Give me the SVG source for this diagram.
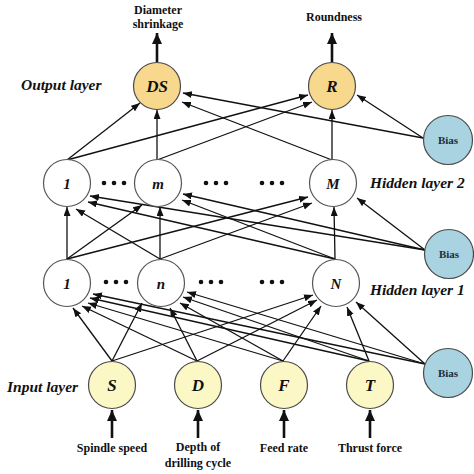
<svg xmlns="http://www.w3.org/2000/svg" width="474" height="474" viewBox="0 0 474 474">
<style>
.c{stroke:#111;stroke-width:1.3;fill:none;marker-end:url(#a)}
.io{stroke:#111;stroke-width:2.6;fill:none;marker-end:url(#b)}
.out{fill:#f7d88c;stroke:#4a4a4a;stroke-width:1.2}
.in{fill:#fcf8c6;stroke:#4a4a4a;stroke-width:1.2}
.hid{fill:#fff;stroke:#555;stroke-width:1.2}
.bias{fill:#a9d3e0;stroke:#4a4a4a;stroke-width:1.2}
.nl{font-family:"Liberation Serif",serif;font-weight:bold;font-style:italic;font-size:17px;text-anchor:middle;fill:#111}
.hl{font-family:"Liberation Serif",serif;font-weight:bold;font-style:italic;font-size:15px;text-anchor:middle;fill:#111}
.ll{font-family:"Liberation Serif",serif;font-weight:bold;font-style:italic;font-size:15.5px;fill:#111}
.lb{font-family:"Liberation Serif",serif;font-weight:bold;font-size:12px;text-anchor:middle;fill:#111}
.bt{font-family:"Liberation Serif",serif;font-weight:bold;font-size:11px;text-anchor:middle;fill:#1c2a3a}
.dot{fill:#111}
</style>
<defs>
<marker id="a" markerUnits="userSpaceOnUse" markerWidth="10" markerHeight="8" refX="9" refY="3.5" orient="auto"><path d="M0,0 L9,3.5 L0,7 z" fill="#111"/></marker>
<marker id="b" markerUnits="userSpaceOnUse" markerWidth="12" markerHeight="12" refX="11" refY="5" orient="auto"><path d="M0,0 L11,5 L0,10 z" fill="#111"/></marker>
</defs>
<g id="connectors">
<!-- hidden2 to output -->
<path class="c" d="M67,160 L140,103"/>
<path class="c" d="M67,160 L308,95"/>
<path class="c" d="M157,160 L157,110"/>
<path class="c" d="M157,160 L312,102"/>
<path class="c" d="M332,160 L182,102"/>
<path class="c" d="M332,160 L332,110"/>
<path class="c" d="M423,138 L183,93"/>
<path class="c" d="M423,138 L357,95"/>
<!-- hidden1 to hidden2 -->
<path class="c" d="M67,259 L67,207"/>
<path class="c" d="M67,259 L142,205"/>
<path class="c" d="M67,259 L308,197"/>
<path class="c" d="M160,259 L76,209"/>
<path class="c" d="M160,259 L160,207"/>
<path class="c" d="M160,259 L312,203"/>
<path class="c" d="M335,259 L88,202"/>
<path class="c" d="M335,259 L182,200"/>
<path class="c" d="M335,259 L334,207"/>
<path class="c" d="M425,250 L90,196"/>
<path class="c" d="M425,250 L183,194"/>
<path class="c" d="M425,250 L357,198"/>
<!-- input to hidden1 -->
<path class="c" d="M112,361 L73,308"/>
<path class="c" d="M112,361 L142,303"/>
<path class="c" d="M112,361 L313,295"/>
<path class="c" d="M197,361 L82,306"/>
<path class="c" d="M197,361 L170,308"/>
<path class="c" d="M197,361 L317,300"/>
<path class="c" d="M283,361 L88,303"/>
<path class="c" d="M283,361 L180,303"/>
<path class="c" d="M283,361 L321,306"/>
<path class="c" d="M369,361 L90,298"/>
<path class="c" d="M369,361 L183,297"/>
<path class="c" d="M369,361 L347,307"/>
<path class="c" d="M425,364 L93,294"/>
<path class="c" d="M425,364 L187,292"/>
<path class="c" d="M425,364 L356,302"/>
<!-- input/output arrows -->
<path class="io" d="M157,62 L157,33"/>
<path class="io" d="M332,62 L332,33"/>
<path class="io" d="M112,438 L112,410"/>
<path class="io" d="M198,438 L198,410"/>
<path class="io" d="M284,438 L284,410"/>
<path class="io" d="M370,438 L370,410"/>
</g>
<g id="node-DS"><circle class="out" cx="157" cy="86" r="23.5"/><text class="nl" x="157" y="92">DS</text></g>
<g id="node-R"><circle class="out" cx="332" cy="86" r="23.5"/><text class="nl" x="332" y="92">R</text></g>
<g id="node-h2-1"><circle class="hid" cx="67" cy="183" r="23.5"/><text class="hl" x="67" y="188.5">1</text></g>
<g id="node-h2-m"><circle class="hid" cx="158" cy="183" r="23.5"/><text class="hl" x="158" y="188.5">m</text></g>
<g id="node-h2-M"><circle class="hid" cx="333" cy="183" r="23.5"/><text class="hl" x="333" y="188.5">M</text></g>
<g id="node-h1-1"><circle class="hid" cx="67" cy="283" r="23.5"/><text class="hl" x="67" y="288.5">1</text></g>
<g id="node-h1-n"><circle class="hid" cx="161" cy="283" r="23.5"/><text class="hl" x="161" y="288.5">n</text></g>
<g id="node-h1-N"><circle class="hid" cx="336" cy="283" r="23.5"/><text class="hl" x="336" y="288.5">N</text></g>
<g id="node-S"><circle class="in" cx="112" cy="385" r="23.5"/><text class="nl" x="112" y="391">S</text></g>
<g id="node-D"><circle class="in" cx="198" cy="385" r="23.5"/><text class="nl" x="198" y="391">D</text></g>
<g id="node-F"><circle class="in" cx="284" cy="385" r="23.5"/><text class="nl" x="284" y="391">F</text></g>
<g id="node-T"><circle class="in" cx="370" cy="385" r="23.5"/><text class="nl" x="370" y="391">T</text></g>
<g id="bias-out"><circle class="bias" cx="448" cy="140" r="24.5"/><text class="bt" x="448" y="144">Bias</text></g>
<g id="bias-h2"><circle class="bias" cx="449" cy="254" r="24.5"/><text class="bt" x="449" y="258">Bias</text></g>
<g id="bias-h1"><circle class="bias" cx="448" cy="373" r="24.5"/><text class="bt" x="448" y="377">Bias</text></g>
<g id="dots">
<circle class="dot" cx="104" cy="183" r="2.3"/><circle class="dot" cx="114" cy="183" r="2.3"/><circle class="dot" cx="124" cy="183" r="2.3"/>
<circle class="dot" cx="206" cy="183" r="2.3"/><circle class="dot" cx="216" cy="183" r="2.3"/><circle class="dot" cx="226" cy="183" r="2.3"/>
<circle class="dot" cx="262" cy="183" r="2.3"/><circle class="dot" cx="272" cy="183" r="2.3"/><circle class="dot" cx="282" cy="183" r="2.3"/>
<circle class="dot" cx="106" cy="282" r="2.3"/><circle class="dot" cx="116" cy="282" r="2.3"/><circle class="dot" cx="126" cy="282" r="2.3"/>
<circle class="dot" cx="201" cy="282" r="2.3"/><circle class="dot" cx="211" cy="282" r="2.3"/><circle class="dot" cx="221" cy="282" r="2.3"/>
<circle class="dot" cx="262" cy="282" r="2.3"/><circle class="dot" cx="272" cy="282" r="2.3"/><circle class="dot" cx="282" cy="282" r="2.3"/>
</g>
<g id="labels">
<text class="ll" x="21" y="90">Output layer</text>
<text class="ll" x="370" y="188">Hidden layer 2</text>
<text class="ll" x="370" y="295">Hidden layer 1</text>
<text class="ll" x="7" y="392">Input layer</text>
<text class="lb" x="158" y="14">Diameter</text>
<text class="lb" x="158" y="28">shrinkage</text>
<text class="lb" x="334" y="21">Roundness</text>
<text class="lb" x="112" y="452">Spindle speed</text>
<text class="lb" x="198" y="451">Depth of</text>
<text class="lb" x="198" y="467">drilling cycle</text>
<text class="lb" x="284" y="452">Feed rate</text>
<text class="lb" x="370" y="452">Thrust force</text>
</g>
</svg>
